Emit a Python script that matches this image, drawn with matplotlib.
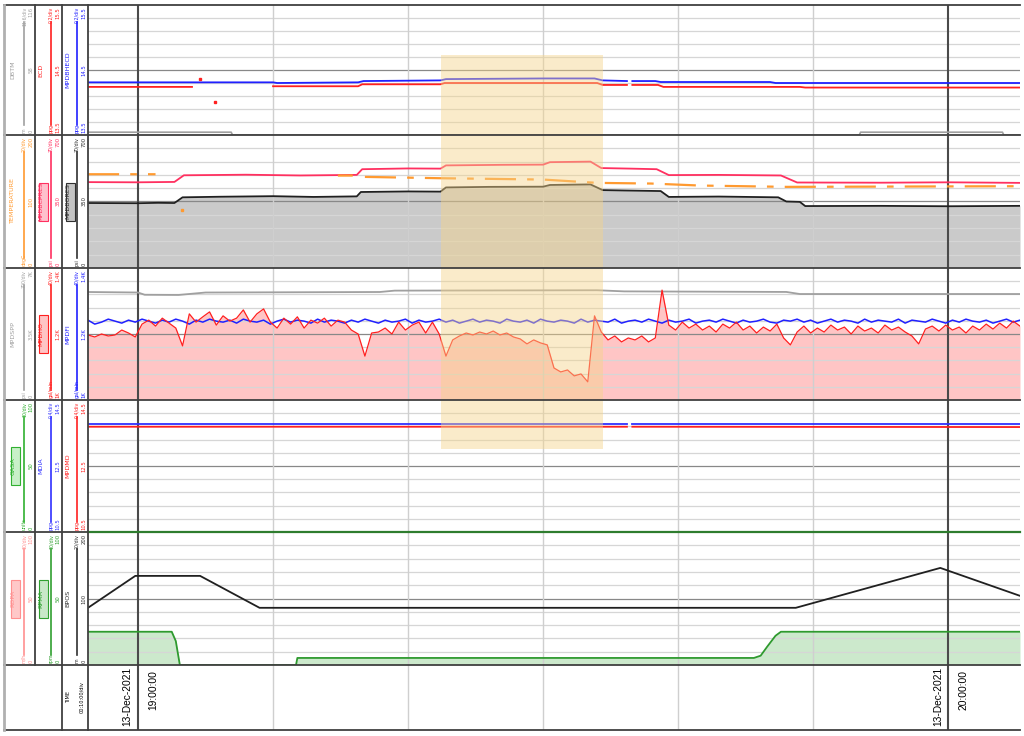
import matplotlib.pyplot as plt
import numpy as np

# time axis: minutes after 13-Dec-2021 19:00:00
t_start, t_end = -3.7, 65.3
hour_marks = [0, 60]
hour_dates = ["13-Dec-2021", "13-Dec-2021"]
hour_times = ["19:00:00", "20:00:00"]
ten_min_marks = [10, 20, 30, 40, 50]
highlight = (22.4, 34.4)

# ---- track 1 (ppg / m) ----
bhecd_t = [-3.7, 10.0, 10.3, 16.3, 16.7, 22.4, 22.8, 30.0, 33.8, 34.4, 36.2, np.nan, 36.6, 38.3, 38.7, 46.8, 47.2, 65.3]
bhecd = [14.31, 14.31, 14.30, 14.31, 14.33, 14.34, 14.36, 14.37, 14.37, 14.34, 14.33, np.nan, 14.33, 14.33, 14.315, 14.315, 14.30, 14.30]
ecd_t = [-3.7, 4.0, np.nan, 10.0, 16.3, 16.6, 22.4, 22.7, 34.0, 34.4, 36.2, np.nan, 36.6, 38.5, 38.9, 49.0, 49.4, 65.3]
ecd = [14.24, 14.24, np.nan, 14.25, 14.25, 14.28, 14.28, 14.30, 14.30, 14.27, 14.27, np.nan, 14.27, 14.27, 14.24, 14.24, 14.23, 14.23]
ecd_spike_t = [4.6, 5.7]
ecd_spike = [14.36, 14.01]
dbtm_t = [-3.7, 6.9, 7.0, 53.4, 53.5, 64.0, 64.1, 65.3]
dbtm = [2.5, 2.5, 0, 0, 2.5, 2.5, 0, 0]

# ---- track 2 (psi / degC) ----
bores_t = [-3.7, 0.0, 1.5, 2.7, 3.3, 6.0, 10.0, 13.0, 16.2, 16.5, 20.0, 22.4, 22.8, 26.0, 30.0, 30.5,
           33.5, 34.4, 36.0, 38.7, 39.3, 43.0, 47.4, 48.0, 49.0, 49.4, 55.0, 60.0, 65.3]
bores = [342, 341, 343, 342, 372, 375, 378, 374, 377, 400, 403, 402, 424, 427, 428, 437,
         440, 410, 408, 405, 374, 376, 372, 350, 348, 326, 327, 325, 327]
bcpres_t = [-3.7, 0.0, 2.7, 3.4, 8.0, 12.0, 16.2, 16.6, 20.0, 22.4, 22.8, 27.0, 30.0, 30.5,
            33.5, 34.3, 36.5, 38.4, 39.3, 43.0, 47.6, 48.8, 55.0, 60.0, 65.3]
bcpres = [452, 451, 453, 488, 491, 487, 490, 520, 524, 523, 540, 543, 544, 557,
          560, 526, 523, 520, 489, 490, 487, 450, 449, 451, 448]
temp_t = [-3.7, 1.3, np.nan, 14.8, 15.9, np.nan, 16.8, 22.4, 30.0, 34.0, 38.0, 41.6, 48.0, 65.3]
temp = [141, 141, np.nan, 139, 139, np.nan, 137, 135, 133, 128, 127, 124, 122, 123]
temp_spike_t = [3.26]
temp_spike = [87]

# ---- track 3 (gal/min / psi), sampled every 0.5 min ----
sample_t0, sample_dt = -3.7, 0.5
mpdho = [1197, 1191, 1200, 1194, 1197, 1212, 1203, 1191, 1230, 1242,
         1224, 1248, 1233, 1218, 1164, 1261, 1236, 1252, 1267, 1227,
         1255, 1239, 1248, 1273, 1236, 1261, 1276, 1236, 1218, 1248,
         1230, 1252, 1218, 1242, 1233, 1248, 1224, 1242, 1236, 1212,
         1200, 1133, 1203, 1206, 1218, 1200, 1236, 1212, 1227, 1236,
         1203, 1236, 1200, 1133, 1182, 1194, 1203, 1197, 1206, 1200,
         1209, 1197, 1203, 1191, 1185, 1170, 1182, 1173, 1167, 1097,
         1085, 1091, 1073, 1079, 1055, 1255, 1206, 1182, 1194, 1176,
         1188, 1182, 1194, 1176, 1188, 1333, 1227, 1212, 1236, 1218,
         1230, 1212, 1224, 1206, 1230, 1218, 1236, 1212, 1224, 1203,
         1221, 1209, 1230, 1188, 1167, 1206, 1224, 1203, 1218, 1206,
         1227, 1212, 1221, 1200, 1224, 1209, 1218, 1203, 1227, 1212,
         1221, 1206, 1194, 1170, 1215, 1224, 1209, 1227, 1212, 1221,
         1203, 1224, 1212, 1230, 1215, 1233, 1218, 1239, 1224]
mpdfi = [1242, 1230, 1236, 1245, 1239, 1233, 1242, 1236, 1245, 1239,
         1233, 1242, 1236, 1245, 1239, 1230, 1242, 1236, 1245, 1239,
         1236, 1242, 1233, 1245, 1239, 1236, 1242, 1230, 1239, 1245,
         1236, 1242, 1239, 1233, 1245, 1236, 1242, 1239, 1233, 1242,
         1236, 1245, 1239, 1233, 1242, 1236, 1239, 1245, 1233, 1242,
         1236, 1239, 1245, 1236, 1242, 1233, 1239, 1245, 1236, 1242,
         1239, 1233, 1245, 1239, 1236, 1242, 1233, 1245, 1239, 1236,
         1242, 1239, 1233, 1245, 1236, 1242, 1239, 1236, 1245, 1233,
         1239, 1242, 1236, 1245, 1239, 1233, 1242, 1236, 1239, 1245,
         1233, 1239, 1242, 1236, 1245, 1239, 1233, 1242, 1236, 1239,
         1245, 1236, 1233, 1242, 1239, 1245, 1236, 1242, 1233, 1239,
         1245, 1236, 1242, 1239, 1233, 1245, 1236, 1242, 1239, 1236,
         1245, 1233, 1242, 1239, 1236, 1245, 1239, 1233, 1242, 1236,
         1245, 1239, 1236, 1242, 1233, 1239, 1245, 1236, 1242]
spp_t = [-3.7, 0.0, 0.5, 3.0, 5.0, 17.9, 19.0, 34.0, 36.0, 48.0, 49.0, 65.3]
spp = [5727, 5700, 5580, 5570, 5700, 5727, 5800, 5820, 5760, 5730, 5620, 5620]

# ---- track 4 (ppg) ----
mdia_t = [-3.7, 36.2, np.nan, 36.6, 65.3]
mdia = [13.77, 13.77, np.nan, 13.77, 13.77]
mpdmd_t = [-3.7, 36.2, np.nan, 36.6, 65.3]
mpdmd = [13.69, 13.69, np.nan, 13.69, 13.68]

# ---- track 5 (m / rpm) ----
bpos_t = [-3.7, -0.2, 4.6, 9.0, 48.7, 59.4, 65.3]
bpos = [86, 134, 134, 86, 86, 146, 104]
rpma_t = [-3.7, 2.5, 2.8, 3.1, 11.7, 11.8, 45.6, 46.1, 46.6, 47.2, 47.6, 65.3]
rpma = [25, 25, 18, 0, 0, 5.3, 5.3, 7, 14, 22, 25, 25]

# header table: name, colour, per-div, top, mid, bottom, unit, swatch
headers = [
    [("DBTM", "#a0a0a0", "11.6/div", "116", "58", "0", "m", None),
     ("ECD", "#ff2020", "0.2/div", "15.5", "14.5", "13.5", "ppg", None),
     ("MPDBHECD", "#2020ff", "0.2/div", "15.5", "14.5", "13.5", "ppg", None)],
    [("TEMPERATURE", "#ff9a30", "20/div", "200", "100", "0", "degC", None),
     ("MPDBCPRES", "#ff3060", "70/div", "700", "350", "0", "psi", "#ffc0cc"),
     ("MPDBORES", "#303030", "70/div", "700", "350", "0", "psi", "#c4c4c4")],
    [("MPDSPP", "#a0a0a0", "700/div", "7K", "3.5K", "0", "psi", None),
     ("MPDHO", "#ff2020", "40/div", "1.4K", "1.2K", "1K", "gal/min", "#ffc4c4"),
     ("MPDFI", "#2020ff", "40/div", "1.4K", "1.2K", "1K", "gal/min", None)],
    [("GASA", "#30b030", "10/div", "100", "50", "0", "units", "#c8f0c8"),
     ("MDIA", "#3030ff", "0.4/div", "14.5", "12.5", "10.5", "ppg", None),
     ("MPDMD", "#ff2020", "0.4/div", "14.5", "12.5", "10.5", "ppg", None)],
    [("ROPA", "#ff9090", "10/div", "100", "50", "0", "m/h", "#ffc8c8"),
     ("RPMA", "#30a030", "10/div", "100", "50", "0", "rpm", "#c8e8c8"),
     ("BPOS", "#303030", "20/div", "200", "100", "0", "m", None)],
]

# ---- layout (pixels) ----
W, H = 1024, 736
X0, X1 = 88, 1020
rows = [(5, 135), (135, 268), (268, 400), (400, 532), (532, 665)]
time_row = (665, 730)
cols = [(4, 35), (35, 62), (62, 88)]

fig = plt.figure(figsize=(W / 100, H / 100), dpi=100)
fig.patch.set_facecolor("white")


def px_axes(x0, y0, x1, y1):
    return fig.add_axes([x0 / W, 1 - y1 / H, (x1 - x0) / W, (y1 - y0) / H])


def sc(v, lo, hi):
    return (np.asarray(v, dtype=float) - lo) / (hi - lo)


def t2px(t):
    return X0 + (t - t_start) / (t_end - t_start) * (X1 - X0)


def grid(ax):
    for k in range(1, 10):
        ax.axhline(k / 10, color="#888888" if k == 5 else "#d6d6d6", lw=0.9, zorder=1.5)
    for m in ten_min_marks:
        ax.axvline(m, color="#cfcfcf", lw=1.0, zorder=1.5)
    for m in hour_marks:
        ax.axvline(m, color="#4a4a4a", lw=1.5, zorder=1.6)


track_axes = []
for (y0, y1) in rows:
    ax = px_axes(X0, y0, X1, y1)
    ax.set_xlim(t_start, t_end)
    ax.set_ylim(0, 1)
    ax.set_xticks([])
    ax.set_yticks([])
    for s in ax.spines.values():
        s.set_visible(False)
    grid(ax)
    track_axes.append(ax)

a1, a2, a3, a4, a5 = track_axes

# track 1
a1.plot(dbtm_t, sc(dbtm, 0, 116), color="#a0a0a0", lw=1.2, zorder=3)
a1.plot(ecd_t, sc(ecd, 13.5, 15.5), color="#ff2020", lw=1.3, zorder=3)
a1.plot(bhecd_t, sc(bhecd, 13.5, 15.5), color="#2020ff", lw=1.3, zorder=3)
a1.plot(ecd_spike_t, sc(ecd_spike, 13.5, 15.5), ls="none", marker="s", ms=1.5, color="#ff2020", zorder=3)

# track 2
bo = sc(bores, 0, 700)
a2.fill_between(bores_t, bo, 0, color="#a8a8a8", alpha=0.6, lw=0, zorder=1)
a2.plot(bores_t, bo, color="#202020", lw=1.3, zorder=3)
a2.plot(bcpres_t, sc(bcpres, 0, 700), color="#ff3060", lw=1.3, zorder=3)
a2.plot(temp_t, sc(temp, 0, 200), color="#ff9a30", lw=1.6, dashes=(14, 5, 3, 5), zorder=3)
a2.plot(temp_spike_t, sc(temp_spike, 0, 200), ls="none", marker="s", ms=1.5, color="#ff9a30", zorder=3)

# track 3
st = sample_t0 + sample_dt * np.arange(len(mpdho))
ho = sc(mpdho, 1000, 1400)
a3.fill_between(st, ho, 0, color="#ff8080", alpha=0.45, lw=0, zorder=1)
a3.plot(spp_t, sc(spp, 0, 7000), color="#a0a0a0", lw=1.3, zorder=3)
a3.plot(st, sc(mpdfi, 1000, 1400), color="#2020ff", lw=1.1, zorder=3)
a3.plot(st, ho, color="#ff2020", lw=0.9, zorder=3)

# track 4
a4.plot(mdia_t, sc(mdia, 10.5, 14.5), color="#3030ff", lw=1.3, zorder=3)
a4.plot(mpdmd_t, sc(mpdmd, 10.5, 14.5), color="#ff2020", lw=1.3, zorder=3)

# track 5
rp = sc(rpma, 0, 100)
a5.fill_between(rpma_t, rp, 0, color="#80c880", alpha=0.4, lw=0, zorder=1)
a5.plot(rpma_t, rp, color="#2e9a2e", lw=1.3, zorder=3)
a5.plot(bpos_t, sc(bpos, 0, 200), color="#202020", lw=1.3, zorder=3)

# time track
at = px_axes(X0, time_row[0], X1, time_row[1])
at.set_xlim(t_start, t_end)
at.set_ylim(0, 1)
at.set_xticks([])
at.set_yticks([])
for s in at.spines.values():
    s.set_visible(False)
for m in ten_min_marks:
    at.axvline(m, color="#cfcfcf", lw=1.0)
for m, d, tt in zip(hour_marks, hour_dates, hour_times):
    at.axvline(m, color="#4a4a4a", lw=1.5)
    at.annotate(d, xy=(m, 1), xycoords=("data", "axes fraction"), xytext=(-7.5, -1.5),
                textcoords="offset points", rotation=90, ha="center", va="top",
                fontsize=7.4, family="Liberation Sans")
    at.annotate(tt, xy=(m, 1), xycoords=("data", "axes fraction"), xytext=(11, -3.5),
                textcoords="offset points", rotation=90, ha="center", va="top",
                fontsize=7.4, family="Liberation Sans")

# overlay: frames, header, highlight
ov = fig.add_axes([0, 0, 1, 1])
ov.set_xlim(0, W)
ov.set_ylim(H, 0)
ov.axis("off")
ov.patch.set_alpha(0)

hx0, hx1 = t2px(highlight[0]), t2px(highlight[1])
ov.add_patch(plt.Rectangle((hx0, 55), hx1 - hx0, 449 - 55, facecolor="#f5d48a",
                           alpha=0.45, edgecolor="none", zorder=5))

frame = "#404040"
for y in [5] + [r[1] for r in rows] + [time_row[1]]:
    ov.plot([4, X1], [y, y], color=frame, lw=1.3, zorder=6)
ov.plot([X0, X1], [532, 532], color="#2e7d2e", lw=1.6, zorder=6)
for x in [35, 62]:
    ov.plot([x, x], [5, rows[-1][1]], color=frame, lw=1.3, zorder=6)
ov.plot([62, 62], [time_row[0], time_row[1]], color=frame, lw=1.3, zorder=6)
ov.plot([X0, X0], [5, time_row[1]], color=frame, lw=1.3, zorder=6)
ov.plot([4, 4], [5, time_row[1]], color="#b0b0b0", lw=2.0, zorder=6)

for (y0, y1), hdr in zip(rows, headers):
    ym = (y0 + y1) / 2
    for (c0, c1), (name, col, div, top, mid, bot, unit, box) in zip(cols, hdr):
        xn = c0 + (9 if c0 == 4 else 6)
        xl = c1 - 11
        xv = c1 - 4
        if box:
            ov.add_patch(plt.Rectangle((xn - 2, ym - 19), 9, 38, facecolor=box,
                                       edgecolor=col, lw=0.8, zorder=6))
        ov.plot([xl, xl], [y0 + 17, y1 - 10], color=col, lw=1.2, zorder=6)
        ov.text(xn, ym, name, rotation=90, ha="center", va="center", fontsize=4.6,
                color=col, zorder=7)
        ov.text(xl, y0 + 2, div, rotation=90, ha="center", va="top", fontsize=3.4,
                color=col, zorder=7)
        ov.text(xl, y1 - 2, unit, rotation=90, ha="center", va="bottom", fontsize=3.4,
                color=col, zorder=7)
        ov.text(xv, y0 + 2, top, rotation=90, ha="center", va="top", fontsize=3.8,
                color=col, zorder=7)
        ov.text(xv, ym, mid, rotation=90, ha="center", va="center", fontsize=3.8,
                color=col, zorder=7)
        ov.text(xv, y1 - 2, bot, rotation=90, ha="center", va="bottom", fontsize=3.8,
                color=col, zorder=7)

ov.text(69, 697, "TIME", rotation=90, ha="center", va="center", fontsize=3.6, zorder=7)
ov.text(82, 697, "00:10:00/div", rotation=90, ha="center", va="center", fontsize=3.6, zorder=7)

fig.savefig("out.png", dpi=100)
